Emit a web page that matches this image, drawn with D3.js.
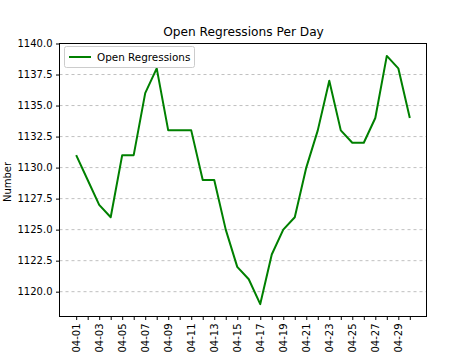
<!DOCTYPE html>
<html><head><meta charset="utf-8">
<script src="https://cdn.jsdelivr.net/npm/d3@7"></script>
<style>body{margin:0;background:#fff}svg{display:block;font-family:"DejaVu Sans",sans-serif}</style>
</head><body>
<svg id="c" width="474" height="355"></svg>
<script>
const days = d3.range(1, 31).map(d => "04-" + String(d).padStart(2, "0"));
const values = [1131,1129,1127,1126,1131,1131,1136,1138,1133,1133,1133,1129,1129,1125,1122,1121,1119,1123,1125,1126,1130,1133,1137,1133,1132,1132,1134,1139,1138,1134];
const yTicks = [1120.0,1122.5,1125.0,1127.5,1130.0,1132.5,1135.0,1137.5,1140.0];
const xTickLabels = days.filter((d,i) => i % 2 === 0);
const seriesName = "Open Regressions";
const title = "Open Regressions Per Day";
const yLabel = "Number";

const svg = d3.select("#c");
const L = 59.5, R = 426.5, T = 43.5, B = 316.5;
const xi = d3.scaleLinear().domain([-1.45, 30.45]).range([L, R]);
const xs = d => xi(days.indexOf(d));
const y = d3.scaleLinear().domain([1118, 1140]).range([B, T]);

// grid
svg.append("g").selectAll("line").data(yTicks).join("line")
  .attr("x1", L).attr("x2", R).attr("y1", d => y(d)).attr("y2", d => y(d))
  .attr("stroke", "#b0b0b0").attr("stroke-width", 0.8).attr("stroke-dasharray", "3,3");

// line
const line = d3.line().x((d,i) => xs(days[i])).y(d => y(d));
svg.append("path").datum(values).attr("d", line)
  .attr("fill", "none").attr("stroke", "#008000").attr("stroke-width", 2).attr("stroke-linejoin", "round");

// y axis
const yAxis = d3.axisLeft(y).tickValues(yTicks).tickFormat(d3.format(".1f")).tickSize(3.5).tickPadding(3.5);
const gy = svg.append("g").attr("transform", `translate(${L},0)`).call(yAxis);
gy.select(".domain").remove();
gy.selectAll("text").attr("font-size", 10).attr("fill", "#000").attr("font-family", "DejaVu Sans");
gy.selectAll("line").attr("stroke", "#000");

// x axis
const xAxisScale = d3.scalePoint().domain(days).range([xi(0), xi(29)]);
const xAxis = d3.axisBottom(xAxisScale).tickSize(3.5).tickPadding(3.5)
  .tickFormat(d => xTickLabels.includes(d) ? d : "");
const gx = svg.append("g").attr("transform", `translate(0,${B})`).call(xAxis);
gx.select(".domain").remove();
gx.selectAll("line").attr("stroke", "#000");
gx.selectAll("text").attr("font-size", 10).attr("fill", "#000").attr("font-family", "DejaVu Sans")
  .attr("transform", "rotate(-90)").attr("text-anchor", "end")
  .attr("x", -7).attr("y", 0).attr("dy", "0.35em");

// frame
svg.append("rect").attr("x", L).attr("y", T).attr("width", R-L).attr("height", B-T)
  .attr("fill", "none").attr("stroke", "#000").attr("stroke-width", 1);

// title
svg.append("text").attr("x", (L+R)/2 + 0.5).attr("y", 35.5).attr("text-anchor", "middle")
  .attr("font-size", 12.2).text(title);
// y label
svg.append("text").attr("transform", `translate(11,182) rotate(-90)`).attr("text-anchor", "middle")
  .attr("font-size", 10).text(yLabel);

// legend
const lg = svg.append("g");
lg.append("rect").attr("x", 64.5).attr("y", 46.5).attr("width", 130).attr("height", 21).attr("rx", 2)
  .attr("fill", "#fff").attr("fill-opacity", 0.8).attr("stroke", "#ccc").attr("stroke-width", 1);
lg.append("line").attr("x1", 69).attr("x2", 91).attr("y1", 57).attr("y2", 57)
  .attr("stroke", "#008000").attr("stroke-width", 2);
lg.append("text").attr("x", 97).attr("y", 57).attr("dy", "0.35em").attr("font-size", 10.4).text(seriesName);
</script>
</body></html>
